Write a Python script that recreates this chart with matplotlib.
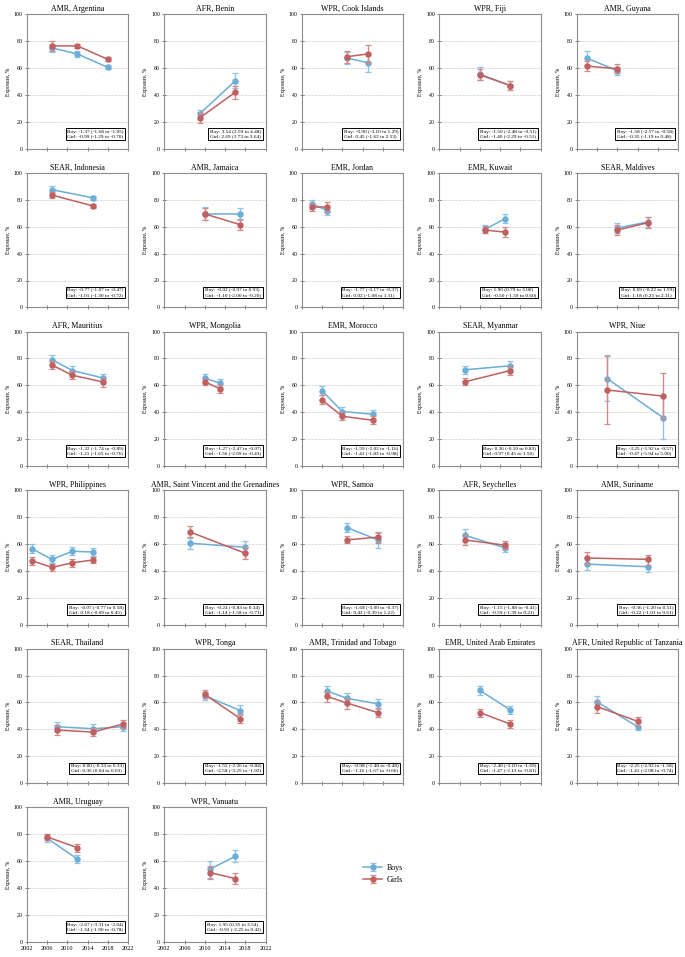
import matplotlib
matplotlib.use("Agg")
import matplotlib.pyplot as plt

# panel titles (region, country)
titles = ["AMR, Argentina", "AFR, Benin", "WPR, Cook Islands", "WPR, Fiji", "AMR, Guyana",
          "SEAR, Indonesia", "AMR, Jamaica", "EMR, Jordan", "EMR, Kuwait", "SEAR, Maldives",
          "AFR, Mauritius", "WPR, Mongolia", "EMR, Morocco", "SEAR, Myanmar", "WPR, Niue",
          "WPR, Philippines", "AMR, Saint Vincent and the Grenadines", "WPR, Samoa", "AFR, Seychelles", "AMR, Suriname",
          "SEAR, Thailand", "WPR, Tonga", "AMR, Trinidad and Tobago", "EMR, United Arab Emirates", "AFR, United Republic of Tanzania",
          "AMR, Uruguay", "WPR, Vanuatu"]

years = [[2007, 2012, 2018], [2009, 2016], [2011, 2015], [2010, 2016], [2004, 2010],
         [2007, 2015], [2010, 2017], [2004, 2007], [2011, 2015], [2010, 2016],
         [2007, 2011, 2017], [2010, 2013], [2006, 2010, 2016], [2007, 2016], [2008, 2019],
         [2003, 2007, 2011, 2015], [2007, 2018], [2011, 2017], [2007, 2015], [2004, 2016],
         [2008, 2015, 2021], [2010, 2017], [2007, 2011, 2017], [2010, 2016], [2006, 2014],
         [2006, 2012], [2011, 2016]]

boys = [[75, 70.5, 60.5], [26, 50.5], [67.5, 64], [55.5, 47], [67.5, 58],
        [87.5, 81.5], [69.5, 69.5], [77, 72], [58, 66], [59, 63.5],
        [79, 71, 65.5], [65.5, 61.5], [56, 40.5, 38.5], [71.5, 74.5], [65, 36],
        [56.5, 48.5, 54.5, 54], [60.5, 57.5], [72, 63], [66.5, 57], [45, 43],
        [42, 40.5, 42], [65, 54], [68.5, 63, 59], [69, 54.5], [60.5, 42],
        [77, 61.5], [54, 63.5]]
boys_lo = [[72, 68.5, 59], [23, 45], [63, 57], [51, 44], [62.5, 55],
           [85, 80], [65, 65], [74, 69], [55, 62.5], [55.5, 59.5],
           [75.5, 67.5, 62], [62.5, 58.5], [52.5, 37.5, 35], [68.5, 71.5], [48.5, 20],
           [53.5, 45.5, 51.5, 51], [56, 53.5], [68.5, 57], [62, 54], [40.5, 39],
           [38.5, 37.5, 38.5], [61.5, 50.5], [64.5, 59, 55], [65.5, 51.5], [56.5, 39.5],
           [74, 58.5], [47.5, 59.5]]
boys_hi = [[78, 72.5, 62], [29, 56.5], [72, 71], [60.5, 50.5], [72.5, 61],
           [90, 83], [74.5, 74], [80, 75], [61, 69.5], [62.5, 67.5],
           [82.5, 74.5, 68.5], [68.5, 64.5], [59.5, 44, 42], [74.5, 78], [82.5, 52],
           [60, 52, 58, 57], [64.5, 62], [75.5, 68], [71, 60.5], [50, 47.5],
           [45.5, 44, 45], [68, 58], [72, 67, 62.5], [72, 57.5], [64.5, 45],
           [80, 64.5], [60, 68]]

girls = [[76.5, 76.5, 66.5], [23, 42], [68.5, 70.5], [55, 47], [61.5, 59.5],
         [83.5, 75.5], [69.5, 61.5], [74.5, 74.5], [57.5, 56], [57.5, 63],
         [75, 67.5, 62.5], [62.5, 57.5], [49, 37, 34], [62.5, 71], [56.5, 52],
         [47.5, 42.5, 46, 48], [69, 53], [63, 65], [63, 59], [49.5, 48.5],
         [39.5, 38, 44], [66, 48], [64.5, 59.5, 52.5], [52.5, 44], [57, 46],
         [78, 70], [51.5, 47]]
girls_lo = [[73, 75, 65], [19, 37], [64, 64], [51, 43.5], [58, 56],
            [81, 74], [65, 57.5], [72, 71], [55, 52.5], [54, 59],
            [72, 64.5, 59], [60, 54.5], [46, 34, 31], [60, 68], [31.5, 35],
            [44.5, 40, 43, 45.5], [65, 49], [60.5, 61], [59, 56], [45, 44.5],
            [36, 35, 41], [63, 44.5], [60.5, 55.5, 49], [49, 41], [52.5, 42.5],
            [76, 67], [47, 43]]
girls_hi = [[80, 78, 68], [27, 47], [73, 77], [59, 50.5], [65, 63],
            [86, 77], [74, 66], [77.5, 78], [60.5, 59.5], [61, 67],
            [78, 71, 65.5], [65, 60.5], [52.5, 40, 37], [65.5, 74], [82, 69],
            [50.5, 45, 49, 50.5], [73, 57.5], [66, 69], [66.5, 62], [54, 52],
            [43, 41, 47], [69.5, 51.5], [68, 63, 56], [55.5, 47], [61, 49],
            [80.5, 73], [56, 51]]

boy_txt = ["-1.37 (-1.68 to -1.05)", "3.54 (2.59 to 4.48)", "-0.90 (-3.10 to 1.29)", "-1.50 (-2.48 to -0.51)", "-1.58 (-2.57 to -0.58)",
           "-0.77 (-1.07 to -0.47)", "-0.02 (-0.97 to 0.93)", "-1.77 (-3.17 to -0.37)", "1.90 (0.79 to 3.00)", "0.69 (-0.22 to 1.59)",
           "-1.32 (-1.74 to -0.89)", "-1.27 (-2.47 to -0.07)", "-1.59 (-2.02 to -1.16)", "0.36 (-0.10 to 0.83)", "-3.25 (-5.92 to -0.57)",
           "-0.07 (-0.77 to 0.58)", "-0.24 (-0.83 to 0.34)", "-1.68 (-3.00 to -0.37)", "-1.15 (-1.88 to -0.41)", "-0.36 (-1.20 to 0.51)",
           "0.00 (-0.33 to 0.33)", "-1.55 (-2.26 to -0.84)", "-0.98 (-1.48 to -0.48)", "-2.40 (-3.10 to -1.69)", "-2.25 (-2.92 to -1.58)",
           "-2.67 (-3.31 to -2.04)", "1.95 (0.35 to 3.54)"]
girl_txt = ["-0.99 (-1.29 to -0.70)", "2.69 (1.73 to 3.64)", "0.45 (-1.62 to 2.53)", "-1.40 (-2.29 to -0.51)", "-0.35 (-1.19 to 0.48)",
            "-1.01 (-1.30 to -0.72)", "-1.10 (-2.00 to -0.20)", "0.02 (-1.08 to 1.11)", "-0.50 (-1.59 to 0.60)", "1.18 (0.25 to 2.11)",
            "-1.21 (-1.65 to -0.76)", "-1.56 (-2.69 to -0.43)", "-1.41 (-1.83 to -0.98)", "0.97 (0.45 to 1.50)", "-0.47 (-5.94 to 5.00)",
            "0.18 (-0.09 to 0.45)", "-1.14 (-1.58 to -0.71)", "0.42 (-0.39 to 1.22)", "-0.59 (-1.39 to 0.21)", "-0.22 (-1.01 to 0.61)",
            "0.36 (0.04 to 0.69)", "-2.58 (-3.25 to -1.92)", "-1.16 (-1.67 to -0.66)", "-1.47 (-2.13 to -0.81)", "-1.41 (-2.08 to -0.74)",
            "-1.34 (-1.90 to -0.78)", "-0.91 (-2.25 to 0.42)"]

xticks = [2002, 2006, 2010, 2014, 2018, 2022]
yticks = [0, 20, 40, 60, 80, 100]

BOY_C, BOY_E = "#6aaed9", "#8fc3e4"
GIRL_C, GIRL_E = "#c0605f", "#d28b8a"

plt.rcParams['font.family'] = ['Liberation Serif', 'DejaVu Serif']

W, H = 685, 957
fig = plt.figure(figsize=(W / 100, H / 100), dpi=100)

ax_w, ax_h = 101.5, 134.5
handles = None
for i, t in enumerate(titles):
    r, c = divmod(i, 5)
    left = 26.7 + 137.5 * c
    top = 14.3 + 158.6 * r
    ax = fig.add_axes([left / W, 1 - (top + ax_h) / H, ax_w / W, ax_h / H])

    yb = boys[i]
    yg = girls[i]
    eb = [[v - lo for v, lo in zip(yb, boys_lo[i])], [hi - v for v, hi in zip(yb, boys_hi[i])]]
    eg = [[v - lo for v, lo in zip(yg, girls_lo[i])], [hi - v for v, hi in zip(yg, girls_hi[i])]]
    hb = ax.errorbar(years[i], yb, yerr=eb, fmt='-o', color=BOY_C, ecolor=BOY_E, ms=3.6, lw=1.1,
                     elinewidth=1.0, capsize=2.4, capthick=0.9, label='Boys', zorder=3)
    hg = ax.errorbar(years[i], yg, yerr=eg, fmt='-o', color=GIRL_C, ecolor=GIRL_E, ms=3.6, lw=1.1,
                     elinewidth=1.0, capsize=2.4, capthick=0.9, label='Girls', zorder=4)
    handles = [hb, hg]

    ax.set_xlim(2002, 2022)
    ax.set_ylim(0, 100)
    ax.set_xticks(xticks)
    ax.set_yticks(yticks)
    for g in [20, 40, 60, 80]:
        ax.axhline(g, color='#bbbbbb', lw=0.5, ls=(0, (1, 1)), zorder=1)
    for s in ax.spines.values():
        s.set_color('#8c8c8c')
        s.set_linewidth(0.8)
    ax.tick_params(axis='both', direction='inout', length=3, width=0.5, color='#555555',
                   labelsize=4.2, pad=1.5)
    ax.tick_params(axis='x', labelsize=4.5)
    if r < 5:
        ax.set_xticklabels([])
    ax.set_ylabel("Exposure, %", fontsize=4, labelpad=2)
    ax.set_title(t, fontsize=5.7, pad=2.5)

    ax.text(0.955, 0.08, "Boy: " + boy_txt[i] + "\nGirl: " + girl_txt[i],
            transform=ax.transAxes, ha='right', va='bottom', multialignment='left',
            fontsize=3.8, linespacing=1.1, zorder=5,
            bbox=dict(boxstyle='square,pad=0.3', fc='white', ec='black', lw=0.7))

fig.legend(handles, ['Boys', 'Girls'], loc='center left',
           bbox_to_anchor=(356 / W, 1 - 874 / H), frameon=False, fontsize=5.8,
           handlelength=2.3, labelspacing=0.5, handletextpad=0.6)

fig.savefig("out.png", dpi=100, facecolor='white')
